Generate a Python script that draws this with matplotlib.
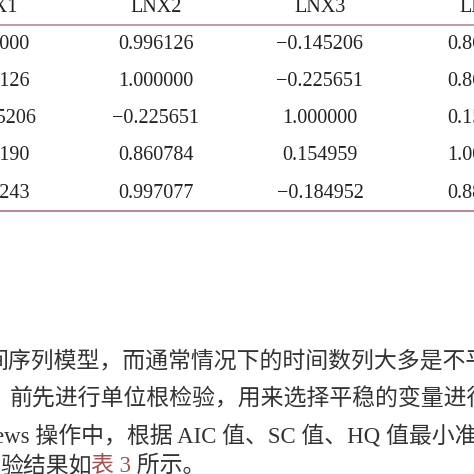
import matplotlib
matplotlib.use("Agg")
import matplotlib.pyplot as plt

headers = ["LNX1", "LNX2", "LNX3", "LNX4"]
col1 = ["1.000000", "0.996126", "\u22120.145206", "0.860190", "0.997243"]
col2 = ["0.996126", "1.000000", "\u22120.225651", "0.860784", "0.997077"]
col3 = ["\u22120.145206", "\u22120.225651", "1.000000", "0.154959", "\u22120.184952"]
col4 = ["0.860190", "0.860784", "0.154959", "1.000000", "0.889452"]
columns = [col1, col2, col3, col4]
para_lines = [
    "间序列模型，而通常情况下的时间数列大多是不平稳",
    "前先进行单位根检验，用来选择平稳的变量进行回",
    "ews 操作中，根据 AIC 值、SC 值、HQ 值最小准则选",
]
last_line = ["验结果如", "表 3", " 所示。"]

W = H = 474
fig = plt.figure(figsize=(4.74, 4.74), dpi=100)
fig.patch.set_facecolor("white")
ax = fig.add_axes([0, 0, 1, 1])
ax.set_xlim(0, W)
ax.set_ylim(H, 0)
ax.axis("off")

fam = ["Liberation Serif", "Noto Sans CJK SC", "DejaVu Sans"]
col_x = [-8, 156, 320, 485]
row_y = [44, 81, 118, 155, 193]
for x, h in zip(col_x, headers):
    ax.text(x, 7, h, family=fam, fontsize=14.5, ha="center", va="center", color="#222")
for x, col in zip(col_x, columns):
    for y, v in zip(row_y, col):
        ax.text(x, y, v, family=fam, fontsize=14.5, ha="center", va="center", color="#222")
rule = "#b88a92"
ax.plot([0, W], [25, 25], color=rule, lw=1.2)
ax.plot([0, W], [211, 211], color=rule, lw=1.5)

fs = 16.5
line_y = [362, 399, 436]
line_x = [-14, 10, -6]
for x, y, s in zip(line_x, line_y, para_lines):
    ax.text(x, y, s, family=fam, fontsize=fs, ha="left", va="center", color="#333")
t = ax.text(0, 466, last_line[0], family=fam, fontsize=fs, ha="left", va="center", color="#333")
fig.canvas.draw()
r = fig.canvas.get_renderer()
bb = t.get_window_extent(r)
t2 = ax.text(bb.x1, 466, last_line[1], family=fam, fontsize=fs, ha="left", va="center", color="#a0524f")
bb2 = t2.get_window_extent(r)
ax.text(bb2.x1, 466, last_line[2], family=fam, fontsize=fs, ha="left", va="center", color="#333")

fig.savefig("out.png", dpi=100, facecolor="white")
